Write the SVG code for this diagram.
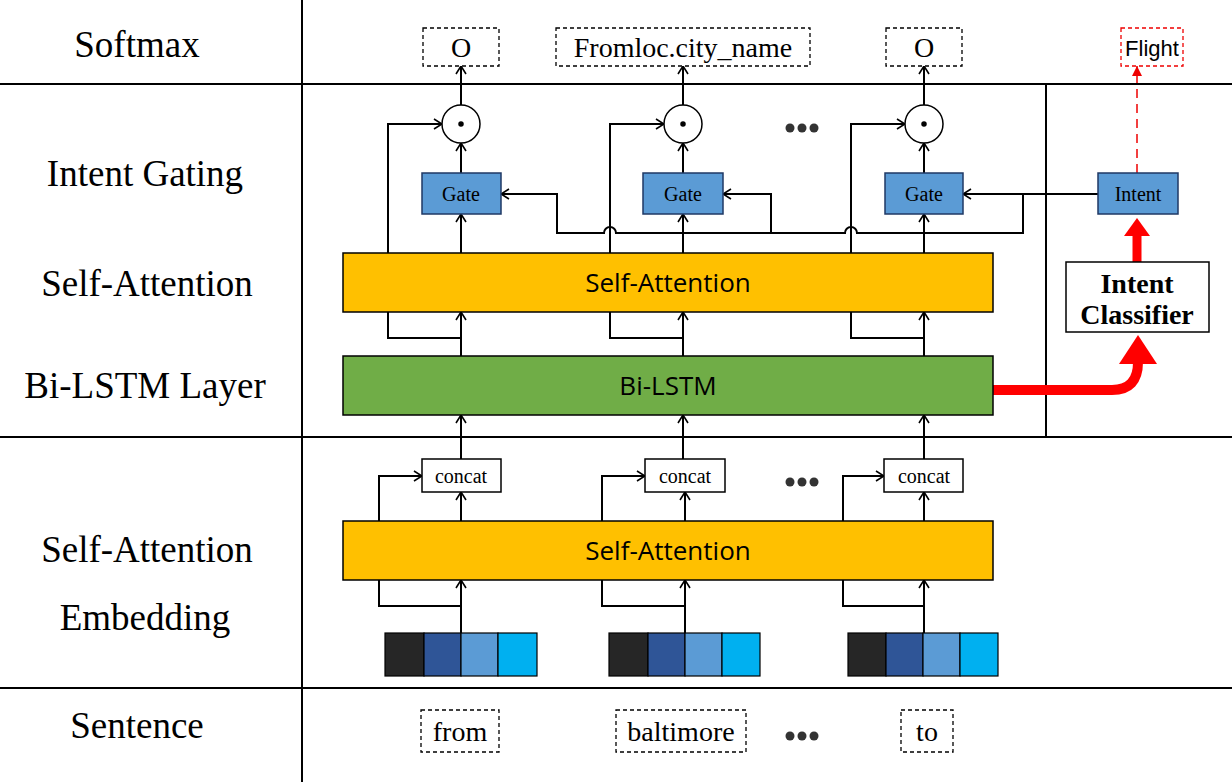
<svg xmlns="http://www.w3.org/2000/svg" width="1232" height="782" viewBox="0 0 1232 782">
<defs>
<marker id="a" viewBox="0 0 12 12" refX="11" refY="6" markerWidth="12" markerHeight="12" markerUnits="userSpaceOnUse" orient="auto"><polyline points="3,1 11,6 3,11" fill="none" stroke="#000" stroke-width="1.6"/></marker>
<marker id="r" viewBox="0 0 12 12" refX="11" refY="6" markerWidth="12" markerHeight="12" markerUnits="userSpaceOnUse" orient="auto"><polygon points="1,1 11,6 1,11" fill="#e00"/></marker>
</defs>
<style>
.lab{font-family:"Liberation Serif",serif;font-size:37px;text-anchor:middle}
.t{font-family:"Liberation Serif",serif;text-anchor:middle}
.s{font-family:"Open Sans","Noto Sans",sans-serif;text-anchor:middle;font-size:26px}
.ln{fill:none;stroke:#000;stroke-width:2}
.gate{fill:#5b9bd5;stroke:#1f3864;stroke-width:1.5}
.box{fill:#fff;stroke:#000;stroke-width:1.5}
.dash{fill:#fff;stroke:#000;stroke-width:1.3;stroke-dasharray:4,3}
</style>
<rect width="1232" height="782" fill="#fff"/>
<g id="grid" stroke="#000" stroke-width="2">
<line x1="0" y1="84" x2="1232" y2="84"/><line x1="0" y1="437" x2="1232" y2="437"/><line x1="0" y1="688" x2="1232" y2="688"/>
<line x1="302" y1="0" x2="302" y2="782"/><line x1="1046" y1="84" x2="1046" y2="437"/>
</g>
<g id="labels">
<text class="lab" x="137" y="57">Softmax</text>
<text class="lab" x="145" y="186">Intent Gating</text>
<text class="lab" x="147" y="296">Self-Attention</text>
<text class="lab" x="145" y="398">Bi-LSTM Layer</text>
<text class="lab" x="147" y="562">Self-Attention</text>
<text class="lab" x="145" y="630">Embedding</text>
<text class="lab" x="137" y="738">Sentence</text>
</g>
<g id="connectors" class="ln">
<line x1="461" y1="105" x2="461" y2="66" marker-end="url(#a)"/>
<line x1="683" y1="105" x2="683" y2="66" marker-end="url(#a)"/>
<line x1="924" y1="105" x2="924" y2="66" marker-end="url(#a)"/>
<line x1="461" y1="173" x2="461" y2="143" marker-end="url(#a)"/>
<line x1="683" y1="173" x2="683" y2="143" marker-end="url(#a)"/>
<line x1="924" y1="173" x2="924" y2="143" marker-end="url(#a)"/>
<line x1="461" y1="253" x2="461" y2="214" marker-end="url(#a)"/>
<line x1="683" y1="253" x2="683" y2="214" marker-end="url(#a)"/>
<line x1="924" y1="253" x2="924" y2="214" marker-end="url(#a)"/>
<polyline points="388,253 388,124 442,124" marker-end="url(#a)"/>
<polyline points="610,253 610,124 664,124" marker-end="url(#a)"/>
<polyline points="851,253 851,124 905,124" marker-end="url(#a)"/>
<line x1="461" y1="356" x2="461" y2="312" marker-end="url(#a)"/>
<line x1="683" y1="356" x2="683" y2="312" marker-end="url(#a)"/>
<line x1="924" y1="356" x2="924" y2="312" marker-end="url(#a)"/>
<polyline points="388,312 388,338 461,338"/>
<polyline points="610,312 610,338 683,338"/>
<polyline points="851,312 851,338 924,338"/>
<line x1="1098" y1="194" x2="963" y2="194" marker-end="url(#a)"/>
<path d="M1023,194 V233 H857 a6,6 0 0 0 -12,0 H616 a6,6 0 0 0 -12,0 H557 V194 H501" marker-end="url(#a)"/>
<polyline points="771,233 771,194 723,194" marker-end="url(#a)"/>
<line x1="461" y1="459" x2="461" y2="415" marker-end="url(#a)"/>
<line x1="683" y1="459" x2="683" y2="415" marker-end="url(#a)"/>
<line x1="924" y1="459" x2="924" y2="415" marker-end="url(#a)"/>
<line x1="461" y1="521" x2="461" y2="492" marker-end="url(#a)"/>
<line x1="685" y1="521" x2="685" y2="492" marker-end="url(#a)"/>
<line x1="924" y1="521" x2="924" y2="492" marker-end="url(#a)"/>
<polyline points="379,521 379,476 422,476" marker-end="url(#a)"/>
<polyline points="602,521 602,476 645,476" marker-end="url(#a)"/>
<polyline points="843,521 843,476 884,476" marker-end="url(#a)"/>
<line x1="461" y1="633" x2="461" y2="580" marker-end="url(#a)"/>
<line x1="685" y1="633" x2="685" y2="580" marker-end="url(#a)"/>
<line x1="924" y1="633" x2="924" y2="580" marker-end="url(#a)"/>
<polyline points="379,580 379,606 461,606"/>
<polyline points="602,580 602,606 685,606"/>
<polyline points="843,580 843,606 924,606"/>
<line x1="1137" y1="173" x2="1137" y2="66" stroke="#e00" stroke-width="1.5" stroke-dasharray="9,6" marker-end="url(#r)"/>
<line x1="1137" y1="262" x2="1137" y2="234" stroke="#f00" stroke-width="9"/>
<polygon points="1124,236 1150,236 1137,218" fill="#f00" stroke="none"/>
<path d="M993,390 H1112 Q1138,390 1138,362" stroke="#f00" stroke-width="10"/>
<polygon points="1119,364 1157,364 1138,335" fill="#f00" stroke="none"/>
</g>
<g id="circles" fill="#fff" stroke="#000" stroke-width="1.5">
<circle cx="461" cy="124" r="19"/><circle cx="683" cy="124" r="19"/><circle cx="924" cy="124" r="19"/>
<circle cx="461" cy="124" r="2" fill="#000"/><circle cx="683" cy="124" r="2" fill="#000"/><circle cx="924" cy="124" r="2" fill="#000"/>
</g>
<g id="softmax" font-size="28">
<rect class="dash" x="423" y="28" width="76" height="38"/><text class="t" x="461" y="57">O</text>
<rect class="dash" x="556" y="28" width="254" height="38"/><text class="t" x="683" y="57">Fromloc.city_name</text>
<rect class="dash" x="886" y="28" width="76" height="38"/><text class="t" x="924" y="57">O</text>
<rect x="1121" y="28" width="62" height="38" fill="#fff" stroke="#e00" stroke-width="1.3" stroke-dasharray="4,3"/><text x="1152" y="56" font-size="22" text-anchor="middle" font-family="Liberation Sans,sans-serif">Flight</text>
</g>
<g id="gates" font-size="20">
<rect class="gate" x="422" y="173" width="79" height="41"/><text class="t" x="461" y="201">Gate</text>
<rect class="gate" x="643" y="173" width="80" height="41"/><text class="t" x="683" y="201">Gate</text>
<rect class="gate" x="885" y="173" width="78" height="41"/><text class="t" x="924" y="201">Gate</text>
<rect class="gate" x="1098" y="173" width="80" height="41"/><text class="t" x="1138" y="201">Intent</text>
</g>
<g id="intent-classifier">
<rect class="box" x="1066" y="262" width="143" height="70"/>
<text class="t" x="1137" y="293" font-size="28" font-weight="bold">Intent</text>
<text class="t" x="1137" y="324" font-size="28" font-weight="bold">Classifier</text>
</g>
<g id="sa-upper"><rect x="343" y="253" width="650" height="59" fill="#ffc000" stroke="#000" stroke-width="1.5"/><text class="s" x="668" y="292">Self-Attention</text></g>
<g id="bilstm"><rect x="343" y="356" width="650" height="59" fill="#70ad47" stroke="#000" stroke-width="1.5"/><text class="s" x="668" y="395">Bi-LSTM</text></g>
<g id="sa-lower"><rect x="343" y="521" width="650" height="59" fill="#ffc000" stroke="#000" stroke-width="1.5"/><text class="s" x="668" y="560">Self-Attention</text></g>
<g id="concats" font-size="20">
<rect class="box" x="422" y="459" width="79" height="33"/><text class="t" x="461" y="483">concat</text>
<rect class="box" x="645" y="459" width="80" height="33"/><text class="t" x="685" y="483">concat</text>
<rect class="box" x="884" y="459" width="79" height="33"/><text class="t" x="924" y="483">concat</text>
</g>
<g id="embeddings" stroke="#000" stroke-width="1.2">
<rect x="385" y="633" width="39" height="43" fill="#262626"/><rect x="424" y="633" width="37" height="43" fill="#2f5597"/><rect x="461" y="633" width="37" height="43" fill="#5b9bd5"/><rect x="498" y="633" width="39" height="43" fill="#00b0f0"/>
<rect x="609" y="633" width="39" height="43" fill="#262626"/><rect x="648" y="633" width="37" height="43" fill="#2f5597"/><rect x="685" y="633" width="37" height="43" fill="#5b9bd5"/><rect x="722" y="633" width="38" height="43" fill="#00b0f0"/>
<rect x="848" y="633" width="38" height="43" fill="#262626"/><rect x="886" y="633" width="37" height="43" fill="#2f5597"/><rect x="923" y="633" width="37" height="43" fill="#5b9bd5"/><rect x="960" y="633" width="38" height="43" fill="#00b0f0"/>
</g>
<g id="sentence" font-size="28">
<rect class="dash" x="421" y="710" width="78" height="42"/><text class="t" x="460" y="741">from</text>
<rect class="dash" x="616" y="710" width="130" height="42"/><text class="t" x="681" y="741">baltimore</text>
<rect class="dash" x="901" y="710" width="52" height="42"/><text class="t" x="927" y="741">to</text>
</g>
<g id="dots" fill="#333">
<circle cx="790" cy="128" r="4.5"/><circle cx="802" cy="128" r="4.5"/><circle cx="814" cy="128" r="4.5"/>
<circle cx="790" cy="482" r="4.5"/><circle cx="802" cy="482" r="4.5"/><circle cx="814" cy="482" r="4.5"/>
<circle cx="790" cy="736" r="4.5"/><circle cx="802" cy="736" r="4.5"/><circle cx="814" cy="736" r="4.5"/>
</g>
</svg>
